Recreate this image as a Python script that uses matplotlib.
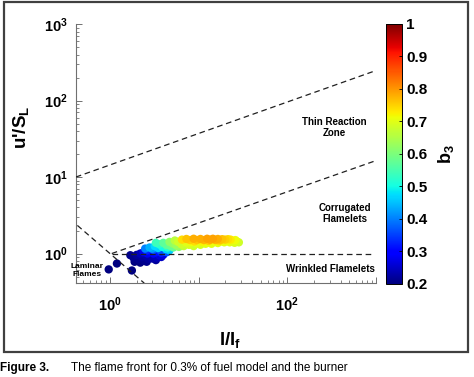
import matplotlib
matplotlib.use("Agg")
import matplotlib.pyplot as plt
import numpy as np
from matplotlib.patches import Rectangle
from matplotlib.ticker import FixedLocator, NullFormatter, LogLocator, FixedFormatter

plt.rcParams['font.family'] = ['Liberation Sans', 'DejaVu Sans']
plt.rcParams['font.weight'] = 'bold'
plt.rcParams['mathtext.fontset'] = 'custom'
plt.rcParams['mathtext.rm'] = 'Liberation Sans:bold'
plt.rcParams['mathtext.bf'] = 'Liberation Sans:bold'
plt.rcParams['mathtext.it'] = 'Liberation Sans:bold'

# ---- data: (l/l_f, u'/S_L, b3) ----
l_lf = [0.97, 1.20, 1.77,
        1.70, 1.90, 1.85, 2.00, 2.10, 2.20, 2.30, 2.45, 2.55, 2.70, 2.85, 3.00, 3.20, 3.40, 3.60, 2.20,
        3.80, 4.00, 3.30, 2.60,
        2.40, 2.65, 2.90, 3.10, 3.35, 3.80, 4.10, 3.70, 2.60, 3.10, 4.40,
        2.50, 2.80, 3.20, 3.00, 3.50, 3.60, 3.90, 4.30, 4.70, 4.50, 3.30,
        4.00, 4.30, 4.80, 4.70, 5.20, 5.10, 5.60, 5.40, 6.00,
        5.90, 6.40, 6.80, 7.20, 7.80, 8.30, 8.80, 9.50, 10.5, 11.0, 12.0, 13.0, 14.0, 15.5, 16.5,
        18.0, 19.5, 21.0, 22.5, 24.0, 25.5, 27.0, 28.5, 26.0,
        6.5, 7.3, 8.0, 8.8, 9.6, 10.5, 11.5, 12.5, 13.5, 14.5, 15.5, 16.5, 17.5, 18.5, 20.0,
        21.5, 23.0, 9.0, 13.0, 17.0]
u_sl = [0.62, 0.74, 0.60,
        0.95, 0.78, 0.88, 0.96, 0.84, 0.76, 0.90, 0.80, 0.94, 0.85, 0.92, 0.86, 0.93, 0.88, 0.95, 1.00,
        0.90, 0.96, 0.82, 0.78,
        1.04, 1.00, 1.05, 1.00, 1.04, 1.02, 1.06, 1.10, 1.10, 1.12, 1.04,
        1.16, 1.20, 1.25, 1.16, 1.18, 1.32, 1.22, 1.14, 1.10, 1.20, 1.38,
        1.38, 1.30, 1.26, 1.42, 1.20, 1.35, 1.28, 1.48, 1.22,
        1.42, 1.32, 1.25, 1.40, 1.30, 1.42, 1.25, 1.35, 1.30, 1.42, 1.34, 1.40, 1.34, 1.42, 1.37,
        1.44, 1.40, 1.46, 1.40, 1.46, 1.38, 1.44, 1.40, 1.50,
        1.52, 1.55, 1.50, 1.56, 1.50, 1.55, 1.50, 1.56, 1.51, 1.56, 1.50, 1.55, 1.50, 1.54, 1.52,
        1.54, 1.52, 1.44, 1.46, 1.46]
b3 = [0.20, 0.20, 0.20,
      0.21, 0.20, 0.21, 0.22, 0.21, 0.20, 0.22, 0.21, 0.23, 0.22, 0.23, 0.23, 0.24, 0.24, 0.26, 0.24,
      0.25, 0.27, 0.22, 0.21,
      0.28, 0.28, 0.30, 0.29, 0.31, 0.32, 0.35, 0.36, 0.33, 0.37, 0.37,
      0.40, 0.44, 0.47, 0.42, 0.46, 0.52, 0.50, 0.47, 0.46, 0.52, 0.54,
      0.57, 0.57, 0.58, 0.62, 0.58, 0.62, 0.63, 0.66, 0.62,
      0.68, 0.68, 0.67, 0.70, 0.69, 0.71, 0.68, 0.70, 0.69, 0.72, 0.70, 0.71, 0.70, 0.71, 0.70,
      0.71, 0.70, 0.71, 0.70, 0.70, 0.69, 0.69, 0.68, 0.71,
      0.74, 0.76, 0.75, 0.78, 0.76, 0.78, 0.77, 0.79, 0.78, 0.79, 0.77, 0.78, 0.76, 0.76, 0.75,
      0.74, 0.73, 0.74, 0.75, 0.74]

# regime boundary lines
upper_x = [0.413, 1000]
upper_y = [10, 247]
ka1_x = [1.05, 1000]
ka1_y = [1.0, 16.4]
horiz_x = [1.05, 912]
horiz_y = [1.0, 1.0]
re1_x = [0.43, 2.44]
re1_y = [2.33, 0.41]

cb_ticks = [0.2, 0.3, 0.4, 0.5, 0.6, 0.7, 0.8, 0.9, 1]
cb_labels = ['0.2', '0.3', '0.4', '0.5', '0.6', '0.7', '0.8', '0.9', '1']

fig = plt.figure(figsize=(4.74, 3.77), dpi=100)
ax = fig.add_axes([0.160, 0.249, 0.633, 0.687])

dash = (0, (4.5, 3.0))
for xs, ys in [(upper_x, upper_y), (ka1_x, ka1_y), (horiz_x, horiz_y), (re1_x, re1_y)]:
    ax.plot(xs, ys, color='#202020', lw=0.9, linestyle=dash, zorder=3)

order = np.argsort(b3)
sc = ax.scatter(np.array(l_lf)[order], np.array(u_sl)[order], c=np.array(b3)[order],
                cmap='jet', vmin=0.2, vmax=1.0, s=36, edgecolors='none', zorder=2)

ax.set_xscale('log')
ax.set_yscale('log')
ax.set_xlim(0.413, 1000)
ax.set_ylim(0.41, 1000)

for s in ['top', 'right']:
    ax.spines[s].set_visible(False)
for s in ['left', 'bottom']:
    ax.spines[s].set_color('#707070')
    ax.spines[s].set_linewidth(0.8)

ax.xaxis.set_major_locator(FixedLocator([1, 10, 100, 1000]))
ax.xaxis.set_major_formatter(FixedFormatter([r'$10^{0}$', '', r'$10^{2}$', '']))
ax.xaxis.set_minor_locator(LogLocator(base=10, subs=np.arange(2, 10)))
ax.xaxis.set_minor_formatter(NullFormatter())
ax.yaxis.set_major_locator(FixedLocator([1, 10, 100, 1000]))
ax.yaxis.set_major_formatter(FixedFormatter([r'$10^{0}$', r'$10^{1}$', r'$10^{2}$', r'$10^{3}$']))
ax.yaxis.set_minor_locator(LogLocator(base=10, subs=np.arange(2, 10)))
ax.yaxis.set_minor_formatter(NullFormatter())
ax.tick_params(which='major', direction='in', length=4, width=0.7, color='#707070', labelsize=10.5)
ax.tick_params(which='minor', direction='in', length=2, width=0.6, color='#707070')
ax.tick_params(axis='x', pad=9)
ax.tick_params(axis='y', pad=6)

ax.set_ylabel(r"u'/S$_\mathrm{L}$", fontsize=13.5, fontweight='bold')
ax.yaxis.set_label_coords(-0.15, 0.6)
ax.set_xlabel(r"l/l$_\mathrm{f}$", fontsize=13.5, fontweight='bold')
ax.xaxis.set_label_coords(0.513, -0.18)

ax.text(339, 44.4, 'Thin Reaction\nZone', fontsize=7, fontweight='bold', ha='center', va='center',
        linespacing=1.1)
ax.text(452, 3.33, 'Corrugated\nFlamelets', fontsize=7, fontweight='bold', ha='center', va='center',
        linespacing=1.1)
ax.text(306, 0.62, 'Wrinkled Flamelets', fontsize=7, fontweight='bold', ha='center', va='center')
ax.text(0.55, 0.6, 'Laminar\nFlames', fontsize=6, fontweight='bold', ha='center', va='center',
        linespacing=1.2)

cax = fig.add_axes([0.814, 0.247, 0.034, 0.69])
cb = fig.colorbar(sc, cax=cax, ticks=cb_ticks)
cb.ax.set_yticklabels(cb_labels)
cb.ax.tick_params(labelsize=11, direction='in', length=2, width=0.6, pad=3)
cb.outline.set_linewidth(0.7)
cb.set_label(r'b$_3$', fontsize=13, fontweight='bold', labelpad=6)

# outer frame
fig.patches.append(Rectangle((0.009, 0.066), 0.978, 0.93, transform=fig.transFigure,
                             fill=False, edgecolor='#404040', linewidth=1.6))

# caption
fig.text(0.0, 0.008, 'Figure 3.', fontsize=8.5, fontweight='bold', va='bottom', ha='left')
fig.text(0.15, 0.008, 'The flame front for 0.3% of fuel model and the burner',
         fontsize=8.5, fontweight='normal', va='bottom', ha='left')

fig.savefig('out.png', dpi=100)
